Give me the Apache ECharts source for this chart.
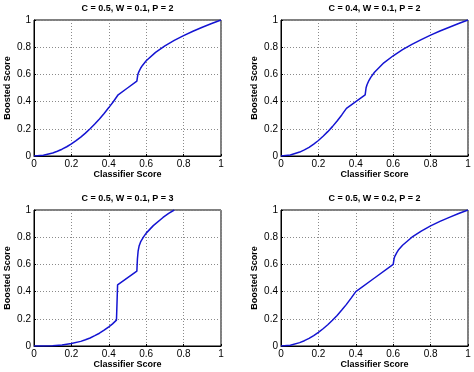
<!DOCTYPE html>
<html>
<head>
<meta charset="utf-8">
<script src="https://cdn.jsdelivr.net/npm/echarts@6/dist/echarts.min.js"></script>
<style>html,body{margin:0;padding:0;background:#fff}#c{width:474px;height:372px}</style>
</head>
<body>
<div id="c"></div>
<script>
// Panel titles
const titles = ['C = 0.5, W = 0.1, P = 2', 'C = 0.4, W = 0.1, P = 2', 'C = 0.5, W = 0.1, P = 3', 'C = 0.5, W = 0.2, P = 2'];
const xName = 'Classifier Score';
const yName = 'Boosted Score';

// Panel 1: C=0.5, W=0.1, P=2
const x1 = [0,0.05,0.1,0.125,0.15,0.175,0.2,0.225,0.25,0.275,0.3,0.325,0.35,0.375,0.4,0.425,0.45,0.5,0.55,0.555,0.56,0.57,0.58,0.6,0.65,0.7,0.75,0.8,0.85,0.9,0.95,1];
const y1 = [0,0.006,0.022,0.035,0.05,0.068,0.089,0.113,0.139,0.168,0.2,0.235,0.272,0.313,0.356,0.401,0.45,0.5,0.55,0.597,0.617,0.645,0.666,0.70,0.762,0.81,0.85,0.885,0.917,0.947,0.974,1];

// Panel 2: C=0.4, W=0.1, P=2
const x2 = [0,0.05,0.1,0.125,0.15,0.175,0.2,0.225,0.25,0.275,0.3,0.325,0.35,0.4,0.45,0.455,0.46,0.47,0.48,0.5,0.55,0.6,0.65,0.7,0.75,0.8,0.85,0.9,0.95,1];
const y2 = [0,0.007,0.029,0.045,0.064,0.088,0.114,0.145,0.179,0.216,0.257,0.302,0.35,0.40,0.45,0.502,0.524,0.555,0.578,0.616,0.685,0.737,0.782,0.821,0.856,0.889,0.919,0.947,0.974,1];

// Panel 3: C=0.5, W=0.1, P=3
const x3 = [0,0.05,0.1,0.15,0.2,0.25,0.275,0.3,0.325,0.35,0.375,0.4,0.42,0.441,0.447,0.55,0.553,0.557,0.562,0.57,0.585,0.6,0.638,0.69,0.72,0.75];
const y3 = [0,0.0003,0.002,0.007,0.018,0.034,0.046,0.059,0.076,0.094,0.116,0.141,0.163,0.19,0.45,0.55,0.64,0.70,0.735,0.765,0.80,0.83,0.885,0.945,0.975,1];

// Panel 4: C=0.5, W=0.2, P=2
const x4 = [0,0.05,0.1,0.125,0.15,0.175,0.2,0.225,0.25,0.275,0.3,0.325,0.35,0.375,0.4,0.5,0.6,0.605,0.61,0.62,0.63,0.65,0.7,0.75,0.8,0.85,0.9,0.95,1];
const y4 = [0,0.006,0.025,0.039,0.056,0.077,0.1,0.127,0.156,0.189,0.225,0.264,0.306,0.352,0.4,0.5,0.6,0.645,0.663,0.689,0.71,0.741,0.8,0.845,0.883,0.916,0.946,0.974,1];

const xs = [x1, x2, x3, x4];
const ys = [y1, y2, y3, y4];

const FONT = "'Liberation Sans', Arial, Helvetica, sans-serif";
const grids = [
  {left: 34, top: 20, width: 187, height: 136},
  {left: 281, top: 20, width: 187, height: 136},
  {left: 34, top: 210, width: 187, height: 136},
  {left: 281, top: 210, width: 187, height: 136}
];

const chart = echarts.init(document.getElementById('c'), null, {renderer: 'canvas'});
const axisCommon = {
  type: 'value', min: 0, max: 1, interval: 0.2,
  axisLine: {show: true, onZero: false, lineStyle: {color: '#000', width: 1}},
  axisTick: {show: true, inside: true, length: 2, lineStyle: {color: '#000'}},
  splitLine: {show: true, lineStyle: {color: '#8a8a8a', width: 1, type: [1, 2]}},
  axisLabel: {color: '#000', fontSize: 10, fontFamily: FONT, margin: 3},
  nameLocation: 'middle',
  nameTextStyle: {color: '#000', fontSize: 9, fontWeight: 'bold', fontFamily: FONT}
};

const option = {
  animation: false,
  backgroundColor: '#fff',
  grid: grids.map(g => Object.assign({show: true, borderColor: '#000', borderWidth: 1, backgroundColor: 'transparent'}, g)),
  xAxis: grids.map((g, i) => Object.assign({}, axisCommon, {gridIndex: i, name: xName, nameGap: 13})),
  yAxis: grids.map((g, i) => Object.assign({}, axisCommon, {gridIndex: i, name: yName, nameGap: 22})),
  series: xs.map((xv, i) => ({
    type: 'line', xAxisIndex: i, yAxisIndex: i,
    showSymbol: false, symbol: 'none',
    lineStyle: {color: '#1414d2', width: 1.5},
    data: xv.map((x, j) => [x, ys[i][j]])
  })),
  graphic: grids.map((g, i) => ({
    type: 'text',
    x: g.left + g.width / 2,
    y: g.top - 11,
    style: {text: titles[i], fill: '#000', font: 'bold 9px ' + FONT, textAlign: 'center', textVerticalAlign: 'middle'}
  }))
};
chart.setOption(option);
</script>
</body>
</html>
